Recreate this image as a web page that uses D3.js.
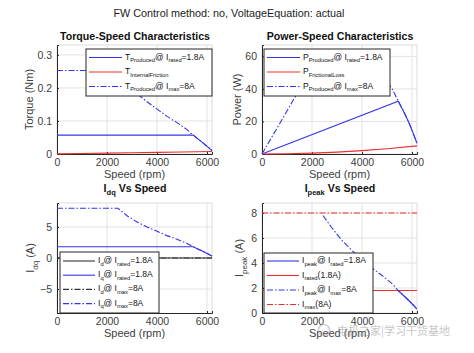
<!DOCTYPE html>
<html><head><meta charset="utf-8">
<script src="https://cdn.jsdelivr.net/npm/d3@7"></script>
<style>
body{margin:0;background:#fff;}
svg{display:block;font-family:"Liberation Sans",Arial,sans-serif;}
</style></head>
<body><svg id="c" width="474" height="353"></svg>
<script>
// ---- data ----
const speedLim = [0, 6200];
const speedTicks = [0, 2000, 4000, 6000];
const speedEnds = [0, 6200];
const speedRated = [0, 5450, 5650, 5850, 6050, 6200];
const speedMax = [0, 2440, 2800, 3200, 3600, 4000, 4400, 4800, 5200, 5450, 5650, 5850, 6050, 6200];
const speedMaxFW = [2440, 2800, 3200, 3600, 4000, 4400, 4800, 5200, 5450, 5650, 5850, 6050, 6200];
const speedFric = [0, 1000, 2000, 3000, 4000, 5000, 6200];

const torqueRated = [0.057, 0.057, 0.045, 0.033, 0.02, 0.01];
const torqueFric = [0.0005, 0.0013, 0.0025, 0.0037, 0.005, 0.0062, 0.0077];
const torqueMax = [0.253, 0.253, 0.215, 0.183, 0.158, 0.136, 0.114, 0.095, 0.074, 0.057, 0.045, 0.033, 0.02, 0.01];

const powerRated = [0, 32.5, 26.6, 20.2, 12.7, 6.5];
const powerFric = [0, 0.14, 0.52, 1.16, 2.1, 3.25, 5.0];
const powerMax = [0, 64.6, 63.0, 61.3, 59.6, 57.0, 52.5, 47.8, 40.3, 32.5, 26.6, 20.2, 12.7, 6.5];

const idRated = [0, 0];
const iqRated = [1.8, 1.8, 1.42, 1.04, 0.64, 0.3];
const idMax = [0, 0];
const iqMax = [8, 8, 6.8, 5.8, 5.0, 4.3, 3.6, 3.0, 2.35, 1.8, 1.42, 1.04, 0.64, 0.3];

const ipeakRated = [1.8, 1.8, 1.42, 1.04, 0.64, 0.3];
const iRatedLine = [1.8, 1.8];
const ipeakMax = [7.8, 6.8, 5.8, 5.0, 4.3, 3.6, 3.0, 2.35, 1.8, 1.42, 1.04, 0.64, 0.3];
const iMaxLine = [8, 8];

const torqueTicks = [0, 0.1, 0.2, 0.3];
const powerTicks = [0, 20, 40, 60];
const idqTicks = [-5, 0, 5];
const ipeakTicks = [0, 2, 4, 6, 8];

// ---- styles ----
const BLUE = "#3636e6", RED = "#e8302c", BLACK = "#333333";
const DASHDOT = "6,2,1.5,2";
const svg = d3.select("#c");
svg.append("rect").attr("width",474).attr("height",353).attr("fill","#fff");

function rich(sel, segs, size, subSize){
  sel.attr("font-size", size);
  let cur = 0;
  segs.forEach(([t, sub])=>{
    const target = sub ? size*0.32 : 0;
    sel.append("tspan").attr("font-size", sub?subSize:size)
      .attr("dy", target-cur).text(t);
    cur = target;
  });
}

function panel(cfg){
  const g = svg.append("g");
  const x = d3.scaleLinear().domain(speedLim).range([cfg.l, cfg.r]);
  const y = d3.scaleLinear().domain(cfg.ylim).range([cfg.b, cfg.t]);
  g.selectAll(".gx").data(speedTicks).join("line")
    .attr("x1",d=>x(d)).attr("x2",d=>x(d)).attr("y1",cfg.t).attr("y2",cfg.b)
    .attr("stroke","#e3e3e3").attr("stroke-width",1);
  g.selectAll(".gy").data(cfg.yticks).join("line")
    .attr("x1",cfg.l).attr("x2",cfg.r).attr("y1",d=>y(d)).attr("y2",d=>y(d))
    .attr("stroke","#e3e3e3").attr("stroke-width",1);
  g.append("path").attr("d",`M${cfg.l},${cfg.t}H${cfg.r}V${cfg.b}`).attr("fill","none").attr("stroke","#dcdcdc");
  const xa = g.append("g").attr("transform",`translate(0,${cfg.b})`)
    .call(d3.axisBottom(x).tickValues(speedTicks).tickSize(-2).tickPadding(5).tickFormat(d3.format("d")));
  const ya = g.append("g").attr("transform",`translate(${cfg.l},0)`)
    .call(d3.axisLeft(y).tickValues(cfg.yticks).tickSize(-2).tickPadding(5).tickFormat(cfg.fmt));
  [xa,ya].forEach(a=>{
    a.attr("font-size",10.5).attr("font-family","Liberation Sans, Arial, sans-serif");
    a.select(".domain").attr("stroke","#262626");
    a.selectAll(".tick line").attr("stroke","#262626");
    a.selectAll("text").attr("font-size",10.5).attr("fill","#404040");
  });
  const line = d3.line().x(d=>x(d[0])).y(d=>y(d[1]));
  cfg.series.forEach(s=>{
    g.append("path").datum(d3.zip(s.xs, s.ys)).attr("d", line)
      .attr("fill","none").attr("stroke", s.color).attr("stroke-width",1.1)
      .attr("stroke-dasharray", s.dash||null);
  });
  const tt = g.append("text").attr("x",cfg.tx).attr("y",cfg.ty).attr("text-anchor","middle")
    .attr("font-weight","bold").attr("fill","#111");
  rich(tt, cfg.title, 10.6, 7.5);
  g.append("text").attr("x",(cfg.l+cfg.r)/2).attr("y",cfg.b+24).attr("text-anchor","middle")
    .attr("font-size",11).attr("fill","#404040").text("Speed (rpm)");
  const yl = g.append("text").attr("transform",`translate(${cfg.ylx},${(cfg.t+cfg.b)/2}) rotate(-90)`)
    .attr("text-anchor","middle").attr("fill","#404040");
  rich(yl, cfg.ylabel, 11, 8);
  const L = cfg.legend;
  const lg = g.append("g");
  lg.append("rect").attr("x",L.x).attr("y",L.y).attr("width",L.w).attr("height",L.h)
    .attr("fill","#fff").attr("stroke","#262626").attr("stroke-width",1);
  cfg.series.forEach((s,i)=>{
    const yy = L.y + L.r0 + i*L.dy;
    lg.append("line").attr("x1",L.x+3).attr("x2",L.x+3+L.sw).attr("y1",yy).attr("y2",yy)
      .attr("stroke",s.color).attr("stroke-width",1.1).attr("stroke-dasharray",s.dash||null);
    const t = lg.append("text").attr("x",L.x+6+L.sw).attr("y",yy+2).attr("fill","#111");
    rich(t, s.label, 8.5, 5.8);
  });
}

panel({
  l:57, r:212, t:45, b:154, ylim:[0,0.33], yticks:torqueTicks, fmt:d=>d===0?"0":d3.format(".1f")(d),
  tx:135, ty:40, title:[["Torque-Speed Characteristics",0]], ylx:33, ylabel:[["Torque (Nm)",0]],
  legend:{x:86,y:49,w:126,h:47,r0:8.5,dy:14.5,sw:33},
  series:[
    {xs:speedRated, ys:torqueRated, color:BLUE, label:[["T",0],["Produced",1],["@ I",0],["rated",1],["=1.8A",0]]},
    {xs:speedFric, ys:torqueFric, color:RED, label:[["T",0],["InternalFriction",1]]},
    {xs:speedMax, ys:torqueMax, color:BLUE, dash:DASHDOT, label:[["T",0],["Produced",1],["@ I",0],["max",1],["=8A",0]]}
  ]
});
panel({
  l:262, r:417, t:45, b:154, ylim:[0,67], yticks:powerTicks, fmt:d3.format("d"),
  tx:340, ty:40, title:[["Power-Speed Characteristics",0]], ylx:241, ylabel:[["Power (W)",0]],
  legend:{x:264,y:49,w:126,h:47,r0:8.5,dy:14.5,sw:33},
  series:[
    {xs:speedRated, ys:powerRated, color:BLUE, label:[["P",0],["Produced",1],["@ I",0],["rated",1],["=1.8A",0]]},
    {xs:speedFric, ys:powerFric, color:RED, label:[["P",0],["FrictionalLoss",1]]},
    {xs:speedMax, ys:powerMax, color:BLUE, dash:DASHDOT, label:[["P",0],["Produced",1],["@ I",0],["max",1],["=8A",0]]}
  ]
});
panel({
  l:57, r:212, t:203, b:313, ylim:[-8.85,8.85], yticks:idqTicks, fmt:d3.format("d"),
  tx:135, ty:192, title:[["I",0],["dq",1],[" Vs Speed",0]], ylx:34, ylabel:[["I",0],["dq",1],[" (A)",0]],
  legend:{x:60,y:252,w:99,h:61,r0:9,dy:14.2,sw:32},
  series:[
    {xs:speedEnds, ys:idRated, color:BLACK, label:[["I",0],["d",1],["@ I",0],["rated",1],["=1.8A",0]]},
    {xs:speedRated, ys:iqRated, color:BLUE, label:[["I",0],["q",1],["@ I",0],["rated",1],["=1.8A",0]]},
    {xs:speedEnds, ys:idMax, color:BLACK, dash:DASHDOT, label:[["I",0],["d",1],["@ I",0],["max",1],["=8A",0]]},
    {xs:speedMax, ys:iqMax, color:BLUE, dash:DASHDOT, label:[["I",0],["q",1],["@ I",0],["max",1],["=8A",0]]}
  ]
});
panel({
  l:262, r:417, t:203, b:313, ylim:[0,8.8], yticks:ipeakTicks, fmt:d3.format("d"),
  tx:340, ty:192, title:[["I",0],["peak",1],[" Vs Speed",0]], ylx:243, ylabel:[["I",0],["peak",1],[" (A)",0]],
  legend:{x:264,y:253,w:109,h:60,r0:8,dy:14.5,sw:32},
  series:[
    {xs:speedRated, ys:ipeakRated, color:BLUE, label:[["I",0],["peak",1],["@ I",0],["rated",1],["=1.8A",0]]},
    {xs:speedEnds, ys:iRatedLine, color:RED, label:[["I",0],["rated",1],["(1.8A)",0]]},
    {xs:speedMaxFW, ys:ipeakMax, color:BLUE, dash:DASHDOT, label:[["I",0],["peak",1],["@ I",0],["max",1],["=8A",0]]},
    {xs:speedEnds, ys:iMaxLine, color:RED, dash:DASHDOT, label:[["I",0],["max",1],["(8A)",0]]}
  ]
});

svg.append("text").attr("x",229).attr("y",17).attr("text-anchor","middle")
  .attr("font-size",10.8).attr("fill","#222").text("FW Control method: no, VoltageEquation: actual");

const wm = svg.append("g").attr("opacity",0.55);
wm.append("circle").attr("cx",324).attr("cy",330).attr("r",5.5).attr("fill","none").attr("stroke","#aaa").attr("stroke-width",1.5);
wm.append("text").attr("x",337).attr("y",335).attr("font-size",11).attr("fill","#999")
  .attr("font-family","Noto Sans CJK SC").text("电机之家|学习干货基地");
</script></body></html>
